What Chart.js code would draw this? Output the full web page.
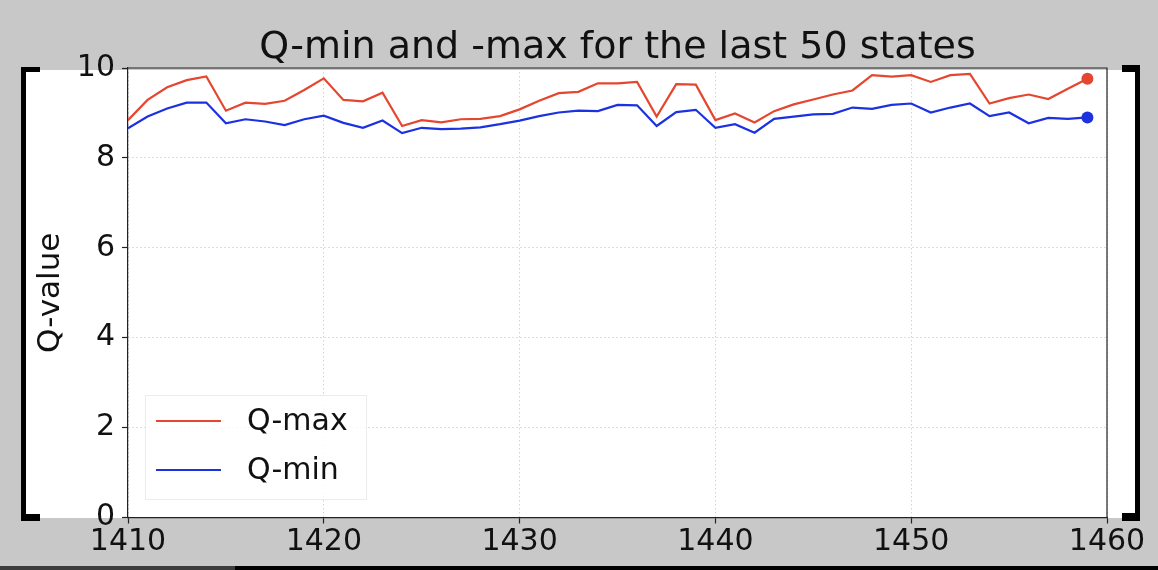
<!DOCTYPE html>
<html>
<head>
<meta charset="utf-8">
<script src="https://cdn.jsdelivr.net/npm/chart.js@4/dist/chart.umd.min.js"></script>
<style>
  html, body { margin: 0; padding: 0; background: #c8c8c8; overflow: hidden; }
  #wrap { position: relative; width: 1158px; height: 570px; }
  canvas { display: block; }
</style>
</head>
<body>
<div id="wrap"><canvas id="c" width="1158" height="570"></canvas></div>
<script>
// ---- data ----
const states = [1410,1411,1412,1413,1414,1415,1416,1417,1418,1419,
                1420,1421,1422,1423,1424,1425,1426,1427,1428,1429,
                1430,1431,1432,1433,1434,1435,1436,1437,1438,1439,
                1440,1441,1442,1443,1444,1445,1446,1447,1448,1449,
                1450,1451,1452,1453,1454,1455,1456,1457,1458,1459];
const qMax = [8.84,9.29,9.57,9.73,9.81,9.05,9.23,9.20,9.27,9.51,
              9.77,9.29,9.26,9.45,8.71,8.84,8.79,8.86,8.87,8.93,
              9.08,9.27,9.44,9.47,9.66,9.66,9.69,8.92,9.64,9.63,
              8.84,8.99,8.79,9.04,9.19,9.30,9.41,9.50,9.84,9.81,
              9.84,9.69,9.84,9.87,9.21,9.33,9.41,9.31,9.54,9.76];
const qMin = [8.66,8.92,9.10,9.23,9.23,8.77,8.86,8.81,8.73,8.86,
              8.94,8.78,8.67,8.83,8.55,8.67,8.64,8.65,8.68,8.75,
              8.83,8.93,9.01,9.05,9.04,9.18,9.17,8.71,9.02,9.07,
              8.67,8.75,8.56,8.87,8.92,8.97,8.98,9.12,9.09,9.18,
              9.21,9.01,9.12,9.21,8.93,9.01,8.77,8.89,8.87,8.90];
const xTicks = [1410,1420,1430,1440,1450,1460];
const yTicks = [0,2,4,6,8,10];
const seriesLabels = ['Q-max','Q-min'];
const titleText = 'Q-min and -max for the last 50 states';
const yAxisTitle = 'Q-value';

// ---- styles ----
const RED = '#e5462f';
const BLUE = '#1c31e0';
const FONT = "'DejaVu Sans', sans-serif";

const toPts = (ys) => states.map((s, i) => ({x: s, y: ys[i]}));
const lastRadius = (n, r) => states.map((_, i) => (i === n - 1 ? r : 0));

const decorPlugin = {
  id: 'decor',
  beforeDraw(chart) {
    const ctx = chart.ctx;
    ctx.save();
    ctx.fillStyle = '#c8c8c8';
    ctx.fillRect(0, 0, chart.width, chart.height);
    // white panel
    ctx.fillStyle = '#ffffff';
    ctx.fillRect(25, 70, 1112, 448);
    // brackets
    ctx.fillStyle = '#000000';
    ctx.fillRect(21, 67, 5, 454);
    ctx.fillRect(21, 67, 19, 5);
    ctx.fillRect(21, 514, 19, 7);
    ctx.fillRect(1135, 65, 5, 456);
    ctx.fillRect(1122, 65, 18, 7);
    ctx.fillRect(1122, 513, 18, 8);
    // bottom strip
    ctx.fillStyle = '#3c3c3c';
    ctx.fillRect(0, 566, 235, 4);
    ctx.fillStyle = '#000000';
    ctx.fillRect(235, 566, 923, 4);
    ctx.restore();
  },
  afterDraw(chart) {
    const ctx = chart.ctx;
    const a = chart.chartArea;
    ctx.save();
    // frame top and right
    ctx.strokeStyle = '#222222';
    ctx.lineWidth = 1.2;
    ctx.beginPath();
    ctx.moveTo(a.left, a.top);
    ctx.lineTo(a.right, a.top);
    ctx.lineTo(a.right, a.bottom);
    ctx.stroke();
    // legend
    ctx.fillStyle = 'rgba(255,255,255,0.8)';
    ctx.fillRect(145, 395, 222, 105);
    ctx.strokeStyle = '#ececec';
    ctx.lineWidth = 1;
    ctx.strokeRect(145.5, 395.5, 221, 104);
    const rows = [421, 470];
    chart.data.datasets.forEach((ds, i) => {
      ctx.strokeStyle = ds.borderColor;
      ctx.lineWidth = 2;
      ctx.beginPath();
      ctx.moveTo(156, rows[i]);
      ctx.lineTo(221, rows[i]);
      ctx.stroke();
      ctx.fillStyle = '#111111';
      ctx.font = '30px ' + FONT;
      ctx.textBaseline = 'middle';
      ctx.textAlign = 'left';
      ctx.fillText(ds.label, 247, rows[i] + 1);
    });
    ctx.restore();
  }
};

new Chart(document.getElementById('c'), {
  type: 'line',
  data: {
    datasets: [
      { label: seriesLabels[0], data: toPts(qMax), borderColor: RED, backgroundColor: RED,
        borderWidth: 2.2, pointRadius: lastRadius(states.length, 6), pointBorderWidth: 0,
        pointHoverRadius: 0, tension: 0, fill: false },
      { label: seriesLabels[1], data: toPts(qMin), borderColor: BLUE, backgroundColor: BLUE,
        borderWidth: 2.2, pointRadius: lastRadius(states.length, 6), pointBorderWidth: 0,
        pointHoverRadius: 0, tension: 0, fill: false }
    ]
  },
  options: {
    responsive: false,
    animation: false,
    devicePixelRatio: 1,
    layout: { padding: { left: 0, right: 51, top: 0, bottom: 0 } },
    plugins: {
      legend: { display: false },
      tooltip: { enabled: false },
      title: {
        display: true, text: titleText, color: '#111111', fullSize: false,
        font: { family: FONT, size: 38, weight: 'normal', lineHeight: 1.0 },
        padding: { top: 29.5, bottom: 0.5 }
      }
    },
    scales: {
      x: {
        type: 'linear', min: 1410, max: 1460,
        afterBuildTicks: (s) => { s.ticks = xTicks.map(v => ({value: v})); },
        afterFit: (s) => { s.height = 52.5; },
        ticks: { color: '#111111', font: { family: FONT, size: 30 }, padding: 1, maxRotation: 0,
                 callback: (v) => String(v) },
        grid: { color: '#cfcfcf', lineWidth: 0.9, tickLength: 6, tickColor: '#222222', tickWidth: 1.2 },
        border: { display: true, color: '#222222', width: 1.2, dash: [1.5, 2.5] }
      },
      y: {
        type: 'linear', min: 0, max: 10,
        afterBuildTicks: (s) => { s.ticks = yTicks.map(v => ({value: v})); },
        afterFit: (s) => { s.width = 128; },
        ticks: { color: '#111111', font: { family: FONT, size: 30 }, padding: 7,
                 callback: (v) => String(v) },
        grid: { color: '#cfcfcf', lineWidth: 0.9, tickLength: 6, tickColor: '#222222', tickWidth: 1.2 },
        border: { display: true, color: '#222222', width: 1.2, dash: [1.5, 2.5] },
        title: { display: true, text: yAxisTitle, color: '#111111',
                 font: { family: FONT, size: 31 }, padding: { top: 32, bottom: 0 } }
      }
    }
  },
  plugins: [decorPlugin]
});
</script>
</body>
</html>
